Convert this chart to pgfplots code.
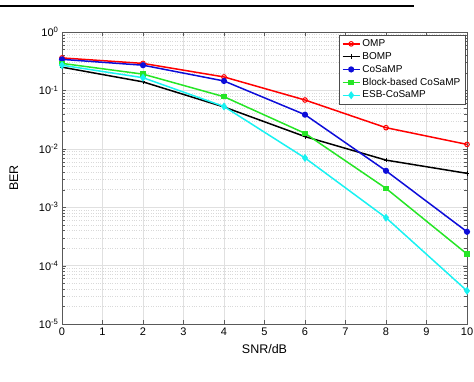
\documentclass[border=0pt]{standalone}
\usepackage{fontspec}
\setmainfont{Liberation Sans}
\usepackage{pgfplots}
\pgfplotsset{compat=1.18}
\definecolor{mblue}{rgb}{0.05,0.05,0.85}
\definecolor{mgreen}{rgb}{0.15,0.9,0.15}
\definecolor{mcyan}{rgb}{0.1,0.95,0.95}
\begin{document}
\begin{tikzpicture}
\useasboundingbox (0,0) rectangle (474pt,381pt);
\draw[line width=1.6pt] (0,375pt) -- (414pt,375pt);
\begin{axis}[
  at={(62pt,57pt)}, anchor=south west,
  scale only axis, width=405pt, height=292pt,
  xmin=0, xmax=10, ymin=1e-5, ymax=1,
  ymode=log,
  xtick={0,1,...,10},
  ytick={1e-5,1e-4,1e-3,1e-2,1e-1,1},
  yticklabels={10\textsuperscript{-5},10\textsuperscript{-4},10\textsuperscript{-3},10\textsuperscript{-2},10\textsuperscript{-1},10\textsuperscript{0}},
  /pgf/number format/assume math mode=true,
  tick label style={font=\fontsize{11}{12}\selectfont},
  xlabel={SNR/dB}, ylabel={BER},
  label style={font=\fontsize{12.5}{13}\selectfont},
  xlabel style={yshift=-2pt},
  ylabel style={yshift=14pt},
  tick align=inside,
  axis line style={draw=black!65, line width=0.6pt},
  major tick style={black!65},
  minor tick style={black!65},
  grid=both,
  major grid style={black!12, line width=0.4pt},
  minor grid style={black!15, dotted, line width=0.4pt},
  minor x tick num=0,
  legend style={at={(0.995,0.99)}, anchor=north east, font=\fontsize{10}{11}\selectfont,
    draw=black!70, row sep=0.3pt, inner sep=2.5pt},
  legend cell align=left,
  every axis plot/.append style={line width=1.5pt, mark size=2.3pt},
]
\addplot[color=red, mark=o, mark options={line width=1pt}] coordinates {(0,0.36) (2,0.29) (4,0.17) (6,0.0685) (8,0.023) (10,0.0119)};
\addlegendentry{OMP}
\addplot[color=black, mark=+, mark options={line width=1pt}] coordinates {(0,0.25) (2,0.14) (4,0.052) (6,0.0162) (8,0.0064) (10,0.0038)};
\addlegendentry{BOMP}
\addplot[color=mblue, mark=*] coordinates {(0,0.34) (2,0.27) (4,0.145) (6,0.0384) (8,0.0042) (10,0.00038)};
\addlegendentry{CoSaMP}
\addplot[color=mgreen, mark=square*, mark size=2pt] coordinates {(0,0.29) (2,0.19) (4,0.078) (6,0.0184) (8,0.0021) (10,0.000158)};
\addlegendentry{Block-based CoSaMP}
\addplot[color=mcyan, mark=diamond*, mark size=2.8pt] coordinates {(0,0.27) (2,0.165) (4,0.053) (6,0.00697) (8,0.00066) (10,0.000037)};
\addlegendentry{ESB-CoSaMP}
\end{axis}
\end{tikzpicture}
\end{document}
